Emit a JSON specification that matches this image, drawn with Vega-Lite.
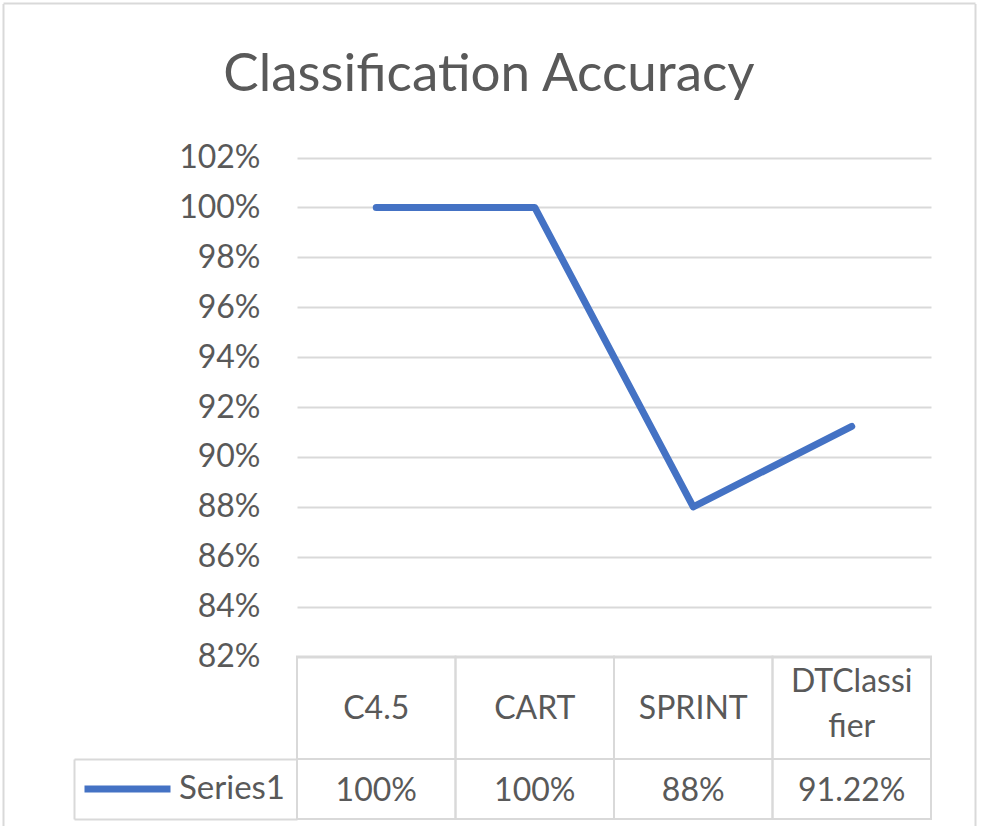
{
  "$schema": "https://vega.github.io/schema/vega-lite/v6.json",
  "width": 634,
  "height": 816,
  "autosize": "none",
  "padding": {"left": 297, "top": 3, "right": 58, "bottom": 7},
  "background": "white",
  "title": {
    "text": "Classification Accuracy",
    "font": "Lato",
    "fontSize": 53,
    "fontWeight": "normal",
    "color": "#595959",
    "anchor": "middle",
    "frame": "group",
    "baseline": "alphabetic",
    "offset": -142,
    "dx": -125
  },
  "data": {
    "values": [
      {"model": "C4.5", "label": "C4.5", "accuracy": 1.0, "series": "Series1"},
      {"model": "CART", "label": "CART", "accuracy": 1.0, "series": "Series1"},
      {"model": "SPRINT", "label": "SPRINT", "accuracy": 0.88, "series": "Series1"},
      {"model": "DTClassifier", "label": "DTClassi\nfier", "accuracy": 0.9122, "series": "Series1"}
    ]
  },
  "layer": [
    {
      "mark": {"type": "line", "strokeWidth": 7, "strokeCap": "round", "strokeJoin": "round"},
      "encoding": {
        "x": {"field": "model", "type": "nominal", "sort": null, "bandPosition": 0.5,
              "scale": {"type": "band", "paddingInner": 0, "paddingOuter": 0}, "axis": null},
        "y": {
          "field": "accuracy", "type": "quantitative",
          "scale": {"domain": [0.75487, 1.081924], "nice": false, "zero": false},
          "axis": {
            "orient": "left",
            "values": [0.82, 0.84, 0.86, 0.88, 0.9, 0.92, 0.94, 0.96, 0.98, 1.0, 1.02],
            "format": ".0%", "title": null, "grid": true, "gridColor": "#d9d9d9", "gridWidth": 2,
            "domain": false, "ticks": false, "labelPadding": 37,
            "labelFont": "Lato", "labelFontSize": 32, "labelColor": "#595959"
          }
        },
        "color": {
          "field": "series", "type": "nominal",
          "scale": {"range": ["#4472c4"]},
          "legend": {
            "orient": "none", "legendX": -216, "legendY": 739.5, "title": null, "padding": 0,
            "symbolType": "stroke", "symbolSize": 7396, "symbolStrokeWidth": 7,
            "labelFont": "Lato", "labelFontSize": 33, "labelColor": "#595959", "labelOffset": 5
          }
        }
      }
    },
    {
      "mark": {"type": "rect", "fillOpacity": 0, "stroke": "#d9d9d9", "strokeWidth": 2},
      "encoding": {
        "x": {"field": "model", "type": "nominal", "sort": null,
              "scale": {"type": "band", "paddingInner": 0, "paddingOuter": 0}, "axis": null},
        "y": {"datum": 0.82, "type": "quantitative",
              "scale": {"domain": [0.75487, 1.081924], "nice": false, "zero": false},
              "axis": {"orient": "left", "values": [0.77892, 0.75487], "tickSize": 223, "tickWidth": 2,
                       "tickColor": "#d9d9d9", "labels": false, "domain": false, "grid": false, "title": null}},
        "y2": {"datum": 0.77892}
      }
    },
    {
      "mark": {"type": "rect", "fillOpacity": 0, "stroke": "#d9d9d9", "strokeWidth": 2},
      "encoding": {
        "x": {"field": "model", "type": "nominal", "sort": null,
              "scale": {"type": "band", "paddingInner": 0, "paddingOuter": 0}, "axis": null},
        "y": {"datum": 0.77892, "type": "quantitative",
              "scale": {"domain": [0.75487, 1.081924], "nice": false, "zero": false},
              "axis": {"orient": "left", "offset": 293, "values": [0.916192], "tickSize": 2, "tickWidth": 827,
                       "tickColor": "#d9d9d9", "labels": false, "domain": false, "grid": false, "title": null}},
        "y2": {"datum": 0.75487}
      }
    },
    {
      "transform": [{"filter": "indexof(datum.label, '\\n') < 0"}],
      "mark": {"type": "text", "font": "Lato", "fontSize": 32, "color": "#595959", "baseline": "middle"},
      "encoding": {
        "x": {"field": "model", "type": "nominal", "sort": null, "bandPosition": 0.5,
              "scale": {"type": "band", "paddingInner": 0, "paddingOuter": 0}, "axis": null},
        "y": {"datum": 0.798758, "type": "quantitative",
              "scale": {"domain": [0.75487, 1.081924], "nice": false, "zero": false},
              "axis": {"orient": "right", "offset": 43, "values": [0.916192], "tickSize": 2, "tickWidth": 827,
                       "tickColor": "#d9d9d9", "labels": false, "domain": false, "grid": false, "title": null}},
        "text": {"field": "label"}
      }
    },
    {
      "transform": [{"filter": "indexof(datum.label, '\\n') >= 0"}],
      "mark": {"type": "text", "font": "Lato", "fontSize": 32, "color": "#595959",
               "baseline": "middle", "lineBreak": "\n", "lineHeight": 45},
      "encoding": {
        "x": {"field": "model", "type": "nominal", "sort": null, "bandPosition": 0.5,
              "scale": {"type": "band", "paddingInner": 0, "paddingOuter": 0}, "axis": null},
        "y": {"datum": 0.80978, "type": "quantitative",
              "scale": {"domain": [0.75487, 1.081924], "nice": false, "zero": false},
              "axis": {"orient": "left", "offset": -678, "values": [1.081924], "tickSize": 972, "tickWidth": 2,
                       "tickColor": "#d9d9d9", "labels": false, "domain": false, "grid": false, "title": null}},
        "text": {"field": "label"}
      }
    },
    {
      "mark": {"type": "text", "font": "Lato", "fontSize": 32, "color": "#595959", "baseline": "middle"},
      "encoding": {
        "x": {"field": "model", "type": "nominal", "sort": null, "bandPosition": 0.5,
              "scale": {"type": "band", "paddingInner": 0, "paddingOuter": 0}, "axis": null},
        "y": {"datum": 0.766092, "type": "quantitative",
              "scale": {"domain": [0.75487, 1.081924], "nice": false, "zero": false},
              "axis": {"orient": "left", "offset": 222, "values": [0.76689], "tickSize": 2, "tickWidth": 60,
                       "tickColor": "#d9d9d9", "labels": false, "domain": false, "grid": false, "title": null}},
        "text": {"field": "accuracy", "format": ".2~%"}
      }
    }
  ],
  "resolve": {"scale": {"y": "independent"}, "axis": {"y": "independent"}},
  "config": {"view": {"stroke": null}}
}
